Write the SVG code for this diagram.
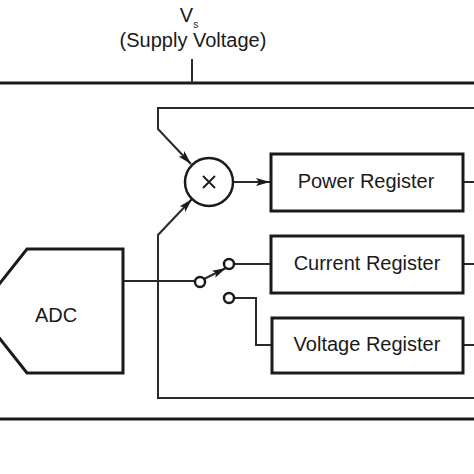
<svg xmlns="http://www.w3.org/2000/svg" width="474" height="474" viewBox="0 0 474 474">
<defs>
<style>
.t{font-family:"Liberation Sans",Arial,sans-serif;fill:#1a1a1a;text-anchor:middle}
.box{fill:#fff;stroke:#1a1a1a;stroke-width:3}
.w{fill:none;stroke:#2a2a2a;stroke-width:2}
.bus{fill:none;stroke:#1a1a1a;stroke-width:3}
.c{fill:#fff;stroke:#1a1a1a;stroke-width:2.5}
</style>
<marker id="ah2" viewBox="0 0 14 10" refX="14" refY="5" markerWidth="14" markerHeight="10" orient="auto" markerUnits="userSpaceOnUse">
<path d="M0,1 L14,5 L0,9 L3,5 Z" fill="#1a1a1a"/>
</marker>
</defs>
<rect width="474" height="474" fill="#fff"/>
<g id="supply">
<text class="t" x="189" y="22" font-size="20">V<tspan font-size="10" dy="6">s</tspan></text>
<text class="t" x="193" y="47" font-size="20">(Supply Voltage)</text>
</g>
<g id="connectors">
<line class="bus" x1="0" y1="83" x2="474" y2="83"/>
<line class="w" x1="192" y1="59" x2="192" y2="83"/>
<line class="bus" x1="0" y1="419" x2="474" y2="419"/>
<polyline class="w" points="474,108 158,108 158,129 191,164" marker-end="url(#ah2)"/>
<polyline class="w" points="474,398 158,398 158,235 192,199" marker-end="url(#ah2)"/>
<line class="w" x1="233" y1="182" x2="270" y2="182" marker-end="url(#ah2)"/>
<line class="w" x1="123" y1="281" x2="195" y2="281"/>
<line class="w" x1="204" y1="279" x2="226" y2="268" marker-end="url(#ah2)"/>
<line class="w" x1="234" y1="264" x2="272" y2="264"/>
<polyline class="w" points="234,298 256,298 256,345 272,345"/>
<line class="w" x1="463" y1="182" x2="474" y2="182"/>
<line class="w" x1="463" y1="264" x2="474" y2="264"/>
<line class="w" x1="463" y1="345" x2="474" y2="345"/>
</g>
<g id="adc">
<polygon class="box" points="-22,311 27,249 123,249 123,373 27,373"/>
<text class="t" x="56" y="322" font-size="20">ADC</text>
</g>
<g id="multiplier">
<circle class="c" cx="209" cy="182" r="24"/>
<path d="M203,176 L215,188 M215,176 L203,188" stroke="#1a1a1a" stroke-width="1.8"/>
</g>
<g id="switch">
<circle class="c" cx="200" cy="282" r="5"/>
<circle class="c" cx="229" cy="264" r="5"/>
<circle class="c" cx="229" cy="298" r="5"/>
</g>
<g id="power-register">
<rect class="box" x="271" y="154" width="192" height="57"/>
<text class="t" x="366" y="188" font-size="20">Power Register</text>
</g>
<g id="current-register">
<rect class="box" x="271" y="236" width="192" height="57"/>
<text class="t" x="367" y="270" font-size="20">Current Register</text>
</g>
<g id="voltage-register">
<rect class="box" x="272" y="318" width="191" height="55"/>
<text class="t" x="367" y="351" font-size="20">Voltage Register</text>
</g>
</svg>
